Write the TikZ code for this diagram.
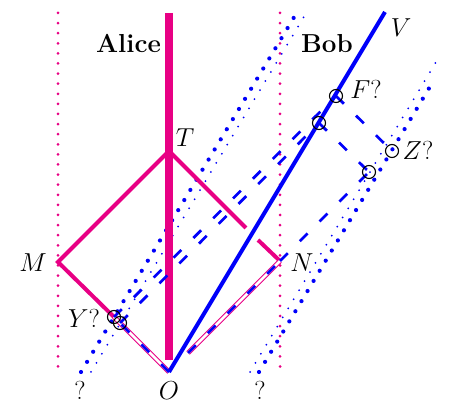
\RequirePackage{fix-cm}
\documentclass[tikz,border=0pt]{standalone}
\usepackage{fontspec}
\definecolor{mag}{RGB}{232,0,132}
\definecolor{bl}{RGB}{0,0,250}
\begin{document}
\begin{tikzpicture}[x=1pt,y=-1pt,
 lab/.style={anchor=base,inner sep=0pt,font=\fontsize{26}{30}\selectfont},
 alicewl/.style={line width=7.5pt,draw=mag},
 thickmag/.style={line width=4pt,draw=mag},
 magdots/.style={draw=mag,line width=3pt,line cap=round,dash pattern=on 0pt off 10.1pt},
 bigdots/.style={draw=bl,line width=4.2pt,line cap=round,dash pattern=on 0pt off 11.8pt},
 smalldots/.style={draw=bl,line width=2pt,line cap=round,dash pattern=on 0pt off 10.6pt},
 bobwl/.style={draw=bl,line width=4pt},
 ray/.style={draw=bl,line width=2.7pt,dash pattern=on 11pt off 17pt},
 dblmag/.style={draw=mag,line width=1pt,double=white,double distance=2.8pt},
 inray/.style={draw=bl,line width=2.6pt,dash pattern=on 11pt off 17pt},
 circ/.style={draw=black,line width=1.1pt,circle,minimum size=13pt,inner sep=0pt},
]
\useasboundingbox (0,0) rectangle (450,411);
% key points
\coordinate (O) at (169,372);
\coordinate (T) at (169,151);
\coordinate (M) at (58,262);
\coordinate (N) at (280,261);
\coordinate (Atop) at (169,13);
\coordinate (Abot) at (169,360);
\coordinate (Vtop) at (385,12);
\coordinate (Y1) at (114,317);
\coordinate (Y2) at (120,323);
\coordinate (F) at (336,96);
\coordinate (G) at (319,123);
\coordinate (Z) at (392,151);
\coordinate (H) at (369,172);
\coordinate (Ga) at (246,228);
\coordinate (Gb) at (258,240);
\coordinate (Ns) at (188,353);
% magenta dotted verticals
\coordinate (L1a) at (58,13); \coordinate (L1b) at (58,372);
\coordinate (L2a) at (280,13); \coordinate (L2b) at (280,372);
\draw[magdots] (L1a) -- (L1b);
\draw[magdots] (L2a) -- (L2b);
% blue dotted lines
\coordinate (BLa) at (81,372); \coordinate (BLb) at (296,14);
\coordinate (SLa) at (91,372); \coordinate (SLb) at (305,15);
\coordinate (BRa) at (259,372); \coordinate (BRb) at (431,85);
\coordinate (SRa) at (250,372); \coordinate (SRb) at (436,62);
\draw[bigdots] (BLa) -- (BLb);
\draw[smalldots] (SLa) -- (SLb);
\draw[bigdots] (BRa) -- (BRb);
\draw[smalldots] (SRa) -- (SRb);
% Alice
\draw[alicewl] (Atop) -- (Abot);
\draw[thickmag] (Y1) -- (M) -- (T) -- (Ga);
\draw[thickmag] (Gb) -- (N);
% double lines
\draw[dblmag] (O) -- (Y1);
\draw[inray] (O) -- (Y1);
\draw[dblmag] (Ns) -- (N);
\draw[inray] (Ns) -- (N);
% Bob
\draw[bobwl] (O) -- (Vtop);
% light rays
\draw[ray] (Y1) -- (F);
\draw[ray] (Y2) -- (G);
\draw[ray] (F) -- (Z);
\draw[ray] (G) -- (H);
\draw[ray] (N) -- (H);
% circles
\node[circ] (cY1) at (Y1) {};
\node[circ] (cY2) at (Y2) {};
\node[circ] (cF) at (F) {};
\node[circ] (cG) at (G) {};
\node[circ] (cZ) at (Z) {};
\node[circ] (cH) at (H) {};
% labels
\node[lab] (tAlice) at (128.5,53) {\textbf{Alice}};
\node[lab] (tBob) at (327,53) {\textbf{Bob}};
\node[lab] (tT) at (185,147) {$T$};
\node[lab] (tV) at (401,37) {$V$};
\node[lab] (tF) at (366,99) {$F?$};
\node[lab] (tZ) at (418,160) {$Z?$};
\node[lab] (tM) at (33,272) {$M$};
\node[lab] (tN) at (302,272) {$N$};
\node[lab] (tY) at (84,328) {$Y?$};
\node[lab] (tq1) at (80,400) {?};
\node[lab] (tO) at (169,400) {$O$};
\node[lab] (tq2) at (260,400) {?};
\end{tikzpicture}
\end{document}
